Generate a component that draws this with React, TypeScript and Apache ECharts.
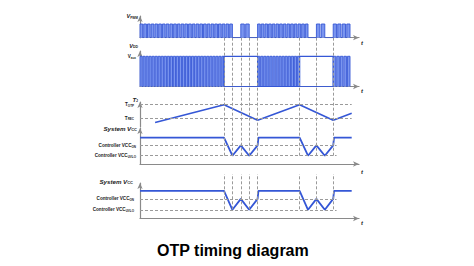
import React, { useEffect, useRef } from 'react';
import * as echarts from 'echarts';

// ---- data (time in arbitrary units, event marks at integer times) ----
const eventTimes = [10, 11, 12, 13, 14, 19, 21, 23];
// PWM bursts: [start, end, pulse count]
const pwmBursts = [
  [0, 11, 25],
  [12, 13, 2],
  [14, 20, 14],
  [21, 22, 2],
  [23, 25, 4],
];
// V_DD switching bursts and constant-high intervals
const vddBursts = [
  [0, 10, 28],
  [14, 19, 14],
  [23, 25, 5],
];
const vddHigh = [
  [10, 14],
  [19, 23],
];
const tjTimes = [1.8, 10, 14, 19, 23, 25.2];
const tjValues = [100, 140, 105, 140, 105, 120.5];
const T_OTP = 140;
const T_REC = 110;
const vccTimes = [0, 10, 11, 12, 13, 14, 14.1, 19, 20, 21, 22, 23, 23.1, 25.2];
const vccValues = [19, 19, 6, 13.5, 6, 13.5, 19, 19, 6, 13.5, 6, 13.5, 19, 19];
const VCC_ON = 13.5;
const VCC_UVLO = 6;
const TJ_REF_END = 25.2;
const VCC_REF_END = 23.4;

// ---- styles ----
const FF = "'Liberation Sans', Arial, sans-serif";
const BLUE = '#3557d6';
const FILL = '#7a95ef';
const AXIS = '#8a8a8a';
const DASH = '#9a9a9a';
const DARK = '#222';
const X_MAX = 26.07;
const DUTY = 0.72;

function buildPulses(bursts: number[][]) {
  const pts: number[][] = [];
  for (const [s, e, n] of bursts) {
    const p = (e - s) / (n - 1 + DUTY);
    for (let i = 0; i < n; i++) {
      const x0 = s + i * p;
      const x1 = x0 + DUTY * p;
      pts.push([x0, 0], [x0, 1], [x1, 1], [x1, 0]);
    }
  }
  return pts;
}
function buildHigh(intervals: number[][]) {
  const pts: number[][] = [];
  for (const [a, b] of intervals) pts.push([a, 0], [a, 1], [b, 1], [b, 0]);
  return pts;
}
const zip = (xs: number[], ys: number[]) => xs.map((x, i) => [x, ys[i]]);

const richLabel = (main: number, sub: number, italic = false) => ({
  m: { fontSize: main, fontWeight: 'bold', fontStyle: italic ? 'italic' : 'normal', color: DARK, fontFamily: FF },
  s: { fontSize: sub, fontWeight: 'bold', color: DARK, fontFamily: FF, verticalAlign: 'bottom', padding: [0, 0, 0, 0] },
});

const axisLine = (show: boolean, showArrow = true) => ({
  show,
  onZero: false,
  symbol: showArrow ? ['none', 'arrow'] : ['none', 'none'],
  symbolSize: [4, 6],
  lineStyle: { color: AXIS, width: 1.2 },
});

function xAxis(gridIndex: number, show: boolean, padTop = 2) {
  return {
    type: 'value',
    gridIndex,
    min: 0,
    max: X_MAX,
    axisLine: axisLine(show),
    axisTick: { show: false },
    axisLabel: { show: false },
    splitLine: { show: false },
    name: show ? 't' : '',
    nameLocation: 'end',
    nameGap: 3,
    nameTextStyle: {
      align: 'center',
      verticalAlign: 'top',
      padding: [padTop, 0, 0, 0],
      fontSize: 6,
      fontStyle: 'italic',
      fontWeight: 'bold',
      color: DARK,
      fontFamily: FF,
    },
  };
}

function yAxis(gridIndex: number, min: number, max: number, name: string, rich: any, nameGap: number, padRight: number, show = true) {
  return {
    type: 'value',
    gridIndex,
    min,
    max,
    axisLine: axisLine(show),
    axisTick: { show: false },
    axisLabel: { show: false },
    splitLine: { show: false },
    name,
    nameLocation: 'end',
    nameGap,
    nameTextStyle: { align: 'right', verticalAlign: 'middle', padding: [0, padRight, 0, 0], rich },
  };
}

function hRef(value: number, end: number, label: string) {
  return [
    { coord: [0, value], label: { formatter: label } },
    { coord: [end, value] },
  ];
}

function refLines(lines: any[], distance: number, rich: any) {
  return {
    silent: true,
    symbol: 'none',
    animation: false,
    lineStyle: { type: [3, 2], color: DASH, width: 1 },
    label: { show: true, position: 'start', distance, rich },
    emphasis: { disabled: true },
    data: lines,
  };
}

const ctrlRich = richLabel(4.6, 3);

const option: any = {
  animation: false,
  backgroundColor: '#ffffff',
  title: {
    text: 'OTP timing diagram',
    left: 157,
    top: 242,
    padding: 0,
    textStyle: { fontSize: 16, fontWeight: 'bold', color: '#000', fontFamily: FF },
  },
  grid: [
    { left: 140, top: 16, width: 219, height: 21.7 }, // V_PWM
    { left: 140, top: 51, width: 219, height: 35.5 }, // V_DD
    { left: 140, top: 102, width: 219, height: 24.87 }, // Tj
    { left: 140, top: 128, width: 219, height: 36 }, // System VCC 1
    { left: 140, top: 183, width: 219, height: 35.5 }, // System VCC 2
    { left: 140, top: 38, width: 219, height: 117.7 }, // event marks 1
    { left: 140, top: 174, width: 219, height: 35.3 }, // event marks 2
  ],
  xAxis: [
    xAxis(0, true, 2),
    xAxis(1, true, 1),
    xAxis(2, false),
    xAxis(3, true, 5),
    xAxis(4, true, 1),
    { ...xAxis(5, false), show: false },
    { ...xAxis(6, false), show: false },
  ],
  yAxis: [
    yAxis(0, 0, 1.584, '{m|V}{s|PWM}', richLabel(5.5, 3.2, true), 0, 2),
    {
      ...yAxis(1, 0, 1.175, '{m|V}{s|DD}', richLabel(5.5, 3.5, true), 5, 2),
      interval: 1,
      axisLabel: {
        show: true,
        margin: 4,
        formatter: (v: number) => (v === 1 ? '{m|V}{s|aux}' : ''),
        rich: richLabel(4.6, 3),
      },
    },
    yAxis(2, 90, 146.1, '{m|T}{s|J}', richLabel(6, 3.5, true), 2, 2),
    yAxis(3, 0, 26.03, '{m|System V}{s|CC}', richLabel(6.2, 4, true), 0, 3),
    yAxis(4, 0, 24.48, '{m|System V}{s|CC}', richLabel(6.2, 4, true), 2, 7),
    { type: 'value', gridIndex: 5, min: 0, max: 1, show: false },
    { type: 'value', gridIndex: 6, min: 0, max: 1, show: false },
  ],
  series: [
    {
      type: 'line',
      xAxisIndex: 0,
      yAxisIndex: 0,
      data: buildPulses(pwmBursts),
      showSymbol: false,
      silent: true,
      lineStyle: { color: BLUE, width: 0.9 },
      areaStyle: { color: FILL, opacity: 1, origin: 'start' },
      z: 3,
    },
    {
      type: 'line',
      xAxisIndex: 1,
      yAxisIndex: 1,
      data: buildPulses(vddBursts),
      showSymbol: false,
      silent: true,
      lineStyle: { color: BLUE, width: 0.9 },
      areaStyle: { color: FILL, opacity: 1, origin: 'start' },
      z: 3,
    },
    {
      type: 'line',
      xAxisIndex: 1,
      yAxisIndex: 1,
      data: buildHigh(vddHigh),
      showSymbol: false,
      silent: true,
      lineStyle: { color: BLUE, width: 1.2 },
      z: 3,
    },
    {
      type: 'line',
      xAxisIndex: 2,
      yAxisIndex: 2,
      data: zip(tjTimes, tjValues),
      showSymbol: false,
      silent: true,
      lineStyle: { color: BLUE, width: 1.6 },
      z: 3,
      markLine: refLines(
        [hRef(T_OTP, TJ_REF_END, '{m|T}{s|OTP}'), hRef(T_REC, TJ_REF_END, '{m|T}{s|REC}')],
        6,
        richLabel(4.6, 3)
      ),
    },
    {
      type: 'line',
      xAxisIndex: 3,
      yAxisIndex: 3,
      data: zip(vccTimes, vccValues),
      showSymbol: false,
      silent: true,
      lineStyle: { color: BLUE, width: 1.8 },
      z: 3,
      markLine: refLines(
        [
          hRef(VCC_ON, VCC_REF_END, '{m|Controller VCC}{s|ON}'),
          hRef(VCC_UVLO, VCC_REF_END, '{m|Controller VCC}{s|UVLO}'),
        ],
        4,
        ctrlRich
      ),
    },
    {
      type: 'line',
      xAxisIndex: 4,
      yAxisIndex: 4,
      data: zip(vccTimes, vccValues),
      showSymbol: false,
      silent: true,
      lineStyle: { color: BLUE, width: 1.8 },
      z: 3,
      markLine: refLines(
        [
          hRef(VCC_ON, VCC_REF_END, '{m|Controller VCC}{s|ON}'),
          hRef(VCC_UVLO, VCC_REF_END, '{m|Controller VCC}{s|UVLO}'),
        ],
        6,
        ctrlRich
      ),
    },
    {
      type: 'line',
      xAxisIndex: 5,
      yAxisIndex: 5,
      data: [],
      showSymbol: false,
      silent: true,
      z: 1,
      markLine: {
        silent: true,
        symbol: 'none',
        animation: false,
        label: { show: false },
        lineStyle: { type: [3, 2], color: DASH, width: 1 },
        data: eventTimes.map((t) => ({ xAxis: t })),
      },
    },
    {
      type: 'line',
      xAxisIndex: 6,
      yAxisIndex: 6,
      data: [],
      showSymbol: false,
      silent: true,
      z: 1,
      markLine: {
        silent: true,
        symbol: 'none',
        animation: false,
        label: { show: false },
        lineStyle: { type: [3, 2], color: DASH, width: 1 },
        data: eventTimes.map((t) => ({ xAxis: t })),
      },
    },
  ],
};

export default function App() {
  const ref = useRef<HTMLDivElement>(null);
  useEffect(() => {
    const chart = echarts.init(ref.current as HTMLDivElement, null, { renderer: 'svg' });
    chart.setOption(option);
    return () => chart.dispose();
  }, []);
  return (
    <div
      ref={ref}
      style={{ position: 'fixed', left: 0, top: 0, width: 474, height: 266, background: '#fff' }}
    />
  );
}
